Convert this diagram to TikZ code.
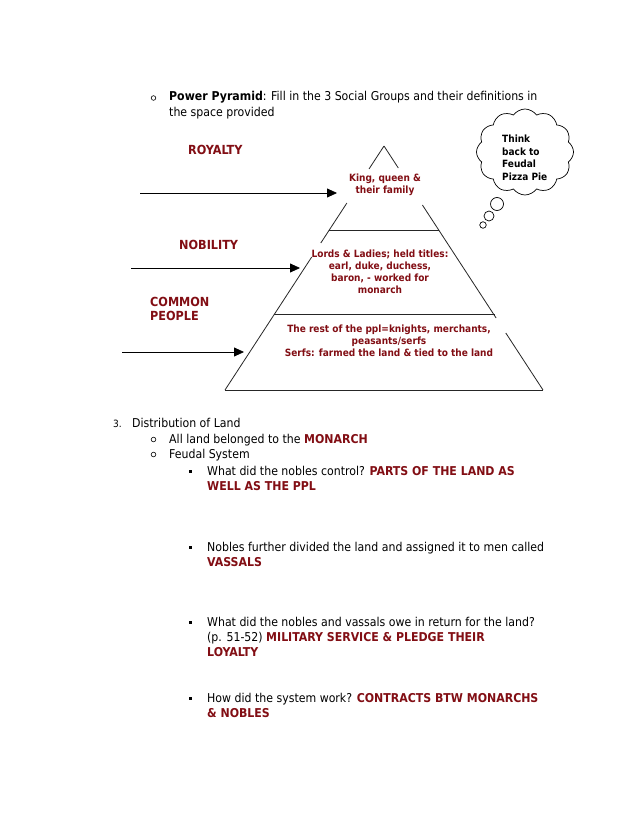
\documentclass[tikz,border=0pt]{standalone}
\usepackage{fontspec}
\setmainfont{DejaVu Sans Condensed}[BoldFont={DejaVu Sans Condensed Bold}]
\usetikzlibrary{shapes.symbols,arrows.meta}
\definecolor{ans}{RGB}{130,14,20}
\begin{document}
\begin{tikzpicture}[x=1pt,y=-1pt,
  body/.style={anchor=base west,inner sep=0pt,font=\fontsize{12.2}{15}\selectfont},
  small/.style={anchor=base west,inner sep=0pt,font=\fontsize{10}{12}\selectfont},
  grp/.style={anchor=base west,inner sep=0pt,text=ans,font=\fontsize{12.5}{15}\selectfont\bfseries},
  pyr/.style={anchor=base,inner sep=0pt,text=ans,font=\fontsize{10}{12}\selectfont\bfseries},
  thought/.style={anchor=base west,inner sep=0pt,font=\fontsize{10}{12}\selectfont\bfseries},
  edge/.style={line width=0.8pt,black!85},
  arr/.style={line width=0.8pt,-{Triangle[length=10pt,width=9pt]}},
  obul/.style={circle,draw,line width=0.6pt,inner sep=0pt,minimum size=4.6pt},
  sbul/.style={rectangle,fill=black,inner sep=0pt,minimum size=3pt},
  puff/.style={circle,draw,line width=0.7pt,inner sep=0pt}
]
\useasboundingbox (0,0) rectangle (638,826);
\fill[white] (0,0) rectangle (638,826);

% heading
\node[obul] (hb) at (153.5,98) {};
\node[body] (h1) at (169,101) {\textbf{Power Pyramid}: Fill in the 3 Social Groups and their definitions in};
\node[body] (h2) at (169,117) {the space provided};

% pyramid coordinates
\coordinate (A) at (384,146);
\coordinate (l1) at (369.0,169);
\coordinate (l2) at (346.9,203);
\coordinate (l3) at (320.8,243);
\coordinate (l4) at (311.7,257);
\coordinate (BL) at (225,390);
\coordinate (r1) at (398.3,168);
\coordinate (r2) at (422.4,205);
\coordinate (r3) at (496.1,318);
\coordinate (r4) at (505.8,333);
\coordinate (BR) at (543,390);
\coordinate (h1l) at (329.3,230);
\coordinate (h1r) at (438.7,230);
\coordinate (h2l) at (274.2,314.5);
\coordinate (h2r) at (494.8,314.5);

\draw[edge] (A) -- (l1) (l2) -- (l3) (l4) -- (BL);
\draw[edge] (A) -- (r1) (r2) -- (r3) (r4) -- (BR);
\draw[edge] (h1l) -- (h1r);
\draw[edge] (h2l) -- (h2r);
\draw[edge] (BL) -- (BR);

% pyramid texts
\node[pyr] (k1) at (385,182) {King, queen \&};
\node[pyr] (k2) at (385,194) {their family};
\node[pyr] (n1) at (380,257) {Lords \& Ladies; held titles:};
\node[pyr] (n2) at (380,269) {earl, duke, duchess,};
\node[pyr] (n3) at (380,281) {baron, - worked for};
\node[pyr] (n4) at (380,293) {monarch};
\node[pyr] (c1) at (389,332) {The rest of the ppl=knights, merchants,};
\node[pyr] (c2) at (389,344) {peasants/serfs};
\node[pyr] (c3) at (389,356) {Serfs: farmed the land \& tied to the land};

% group labels
\node[grp] (roy) at (188,155) {ROYALTY};
\node[grp] (nob) at (179,249) {NOBILITY};
\node[grp] (com1) at (150,306) {COMMON};
\node[grp] (com2) at (150,320) {PEOPLE};

% arrows
\coordinate (ra) at (140,193); \coordinate (rb) at (337,193);
\coordinate (na) at (131,268); \coordinate (nb) at (300,268);
\coordinate (ca) at (122,352); \coordinate (cb) at (244,352);
\draw[arr] (ra) -- (rb);
\draw[arr] (na) -- (nb);
\draw[arr] (ca) -- (cb);

% thought cloud
\node[cloud,draw,line width=0.7pt,cloud puffs=12,cloud puff arc=110,aspect=1.1,
      minimum width=97pt,minimum height=86pt,inner sep=0pt] (cl) at (525,152) {};
\node[puff,minimum size=13pt] (p1) at (497,204) {};
\node[puff,minimum size=10pt] (p2) at (489,216) {};
\node[puff,minimum size=6.5pt] (p3) at (483,225) {};
\node[thought] (t1) at (502,143) {Think};
\node[thought] (t2) at (502,156) {back to};
\node[thought] (t3) at (502,168) {Feudal};
\node[thought] (t4) at (502,181) {Pizza Pie};

% list
\node[small] (n3n) at (113,427) {3.};
\node[body] (d0) at (132,427) {Distribution of Land};
\node[obul] (ob1) at (153.5,439.5) {};
\node[body] (d1) at (169,443) {All land belonged to the \textcolor{ans}{\textbf{MONARCH}}};
\node[obul] (ob2) at (153.5,454.5) {};
\node[body] (d2) at (169,458) {Feudal System};

\node[sbul] (sb1) at (190,471) {};
\node[body] (q1a) at (207,475) {What did the nobles control? \textcolor{ans}{\textbf{PARTS OF THE LAND AS}}};
\node[body] (q1b) at (207,490) {\textcolor{ans}{\textbf{WELL AS THE PPL}}};

\node[sbul] (sb2) at (190,547) {};
\node[body] (q2a) at (207,551) {Nobles further divided the land and assigned it to men called};
\node[body] (q2b) at (207,566) {\textcolor{ans}{\textbf{VASSALS}}};

\node[sbul] (sb3) at (190,622) {};
\node[body] (q3a) at (207,626) {What did the nobles and vassals owe in return for the land?};
\node[body] (q3b) at (207,641) {(p. 51-52) \textcolor{ans}{\textbf{MILITARY SERVICE \& PLEDGE THEIR}}};
\node[body] (q3c) at (207,656) {\textcolor{ans}{\textbf{LOYALTY}}};

\node[sbul] (sb4) at (190,698) {};
\node[body] (q4a) at (207,702) {How did the system work? \textcolor{ans}{\textbf{CONTRACTS BTW MONARCHS}}};
\node[body] (q4b) at (207,717) {\textcolor{ans}{\textbf{\& NOBLES}}};
\end{tikzpicture}
\end{document}
